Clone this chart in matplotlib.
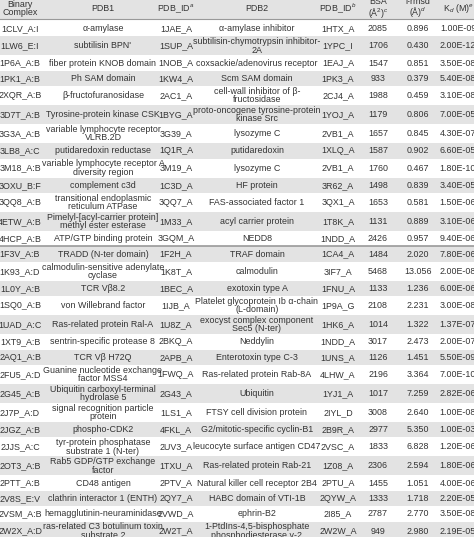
import matplotlib
matplotlib.use("Agg")
import matplotlib.pyplot as plt
from matplotlib.patches import Rectangle

complexes = ["1CLV_A:I","1LW6_E:I","1P6A_A:B","1PK1_A:B","2XQR_A:B","3D7T_A:B","3G3A_A:B","3LB8_A:C","3M18_A:B","3OXU_B:F","3QQ8_A:B","4ETW_A:B","4HCP_A:B",
 "1F3V_A:B","1K93_A:D","1L0Y_A:B","1SQ0_A:B","1UAD_A:C","1XT9_A:B","2AQ1_A:B","2FU5_A:D","2G45_A:B","2J7P_A:D","2JGZ_A:B","2JJS_A:C","2OT3_A:B","2PTT_A:B","2V8S_E:V","2VSM_A:B","2W2X_A:D"]
pdb1 = ["α-amylase","subtilisin BPN'","fiber protein KNOB domain","Ph SAM domain","β-fructofuranosidase","Tyrosine-protein kinase CSK",
 "variable lymphocyte receptor\nVLRB.2D","putidaredoxin reductase","variable lymphocyte receptor A\ndiversity region","complement c3d",
 "transitional endoplasmic\nreticulum ATPase","Pimelyl-[acyl-carrier protein]\nmethyl ester esterase","ATP/GTP binding protein",
 "TRADD (N-ter domain)","calmodulin-sensitive adenylate\ncyclase","TCR Vβ8.2","von Willebrand factor","Ras-related protein Ral-A",
 "sentrin-specific protease 8","TCR Vβ H72Q","Guanine nucleotide exchange\nfactor MSS4","Ubiquitin carboxyl-terminal\nhydrolase 5",
 "signal recognition particle\nprotein","phospho-CDK2","tyr-protein phosphatase\nsubstrate 1 (N-ter)","Rab5 GDP/GTP exchange\nfactor",
 "CD48 antigen","clathrin interactor 1 (ENTH)","hemagglutinin-neuraminidase","ras-related C3 botulinum toxin\nsubstrate 2"]
pdb_id1 = ["1JAE_A","1SUP_A","1NOB_A","1KW4_A","2AC1_A","1BYG_A","3G39_A","1Q1R_A","3M19_A","1C3D_A","3QQ7_A","1M33_A","3GQM_A",
 "1F2H_A","1K8T_A","1BEC_A","1IJB_A","1U8Z_A","2BKQ_A","2APB_A","1FWQ_A","2G43_A","1LS1_A","4FKL_A","2UV3_A","1TXU_A","2PTV_A","2QY7_A","2VWD_A","2W2T_A"]
pdb2 = ["α-amylase inhibitor","subtilisin-chymotrypsin inhibitor-\n2A","coxsackie/adenovirus receptor","Scm SAM domain",
 "cell-wall inhibitor of β-\nfructosidase","proto-oncogene tyrosine-protein\nkinase Src","lysozyme C","putidaredoxin","lysozyme C",
 "HF protein","FAS-associated factor 1","acyl carrier protein","NEDD8","TRAF domain","calmodulin","exotoxin type A",
 "Platelet glycoprotein Ib α-chain\n(L-domain)","exocyst complex component\nSec5 (N-ter)","Neddylin","Enterotoxin type C-3",
 "Ras-related protein Rab-8A","Ubiquitin","FTSY cell division protein","G2/mitotic-specific cyclin-B1",
 "leucocyte surface antigen CD47","Ras-related protein Rab-21","Natural killer cell receptor 2B4","HABC domain of VTI-1B",
 "ephrin-B2","1-PtdIns-4,5-bisphosphate\nphosphodiesterase γ-2"]
pdb_id2 = ["1HTX_A","1YPC_I","1EAJ_A","1PK3_A","2CJ4_A","1YOJ_A","2VB1_A","1XLQ_A","2VB1_A","3R62_A","3QX1_A","1T8K_A","1NDD_A",
 "1CA4_A","3IF7_A","1FNU_A","1P9A_G","1HK6_A","1NDD_A","1UNS_A","4LHW_A","1YJ1_A","2IYL_D","2B9R_A","2VSC_A","1Z08_A","2PTU_A","2QYW_A","2I85_A","2W2W_A"]
bsa = [2085,1706,1547,933,1988,1179,1657,1587,1760,1498,1653,1131,2426,1484,5468,1133,2108,1014,3017,1126,2196,1017,3008,2977,1833,2306,1455,1333,2787,949]
irmsd = ["0.896","0.430","0.851","0.379","0.459","0.806","0.845","0.902","0.467","0.839","0.581","0.889","0.957",
 "2.020","13.056","1.236","2.231","1.322","2.473","1.451","3.364","7.259","2.640","5.350","6.828","2.594","1.051","1.718","2.770","2.980"]
kd = ["1.00E-09","2.00E-12","3.50E-08","5.40E-08","3.10E-08","7.00E-05","4.30E-07","6.60E-05","1.80E-10","3.40E-05","1.50E-06","3.10E-06","9.40E-06",
 "7.80E-06","2.00E-08","6.00E-06","3.00E-08","1.37E-07","2.00E-07","5.50E-09","7.00E-10","2.82E-06","1.00E-08","1.00E-03","1.20E-06","1.80E-06","4.00E-06","2.20E-05","3.50E-08","2.19E-05"]
headers = ["Binary\nComplex","PDB1","PDB_ID$^a$","PDB2","PDB_ID$^b$","BSA\n(Å$^2$)$^c$","i-rmsd\n(Å)$^d$","K$_d$ (M)$^e$"]

plt.rcParams["font.family"] = ["Liberation Sans", "DejaVu Sans"]
plt.rcParams["mathtext.fontset"] = "custom"
plt.rcParams["mathtext.rm"] = "Liberation Sans"
plt.rcParams["mathtext.it"] = "Liberation Sans:italic"

W, H = 474, 537
fig = plt.figure(figsize=(W/100, H/100), dpi=100)
ax = fig.add_axes([0, 0, 1, 1])
ax.set_xlim(0, W); ax.set_ylim(H, 0); ax.axis("off")

centers = [20, 103, 176, 257, 338, 378, 418, 458]
fs = 6.4
col = "#333333"
gray = "#e3e3e3"

hdr_h = 19
ax.add_patch(Rectangle((0, 0), W, hdr_h, color=gray, lw=0))
for x, t in zip(centers, headers):
    ax.text(x, hdr_h/2 - 1, t, ha="center", va="center", fontsize=fs, color=col, linespacing=0.95)
ax.plot([0, W], [hdr_h, hdr_h], color="#999999", lw=0.8)

y = hdr_h + 2
for i in range(len(complexes)):
    double = ("\n" in pdb1[i]) or ("\n" in pdb2[i])
    h = 19 if double else 15.4
    if i % 2 == 1:
        ax.add_patch(Rectangle((0, y), W, h, color=gray, lw=0))
    cy = y + h/2
    vals = [complexes[i], pdb1[i], pdb_id1[i], pdb2[i], pdb_id2[i], str(bsa[i]), irmsd[i], kd[i]]
    for x, t in zip(centers, vals):
        ax.text(x, cy, t, ha="center", va="center", fontsize=fs, color=col, linespacing=0.9)
    y += h
    if i == 12:
        ax.plot([0, W], [y, y], color="#999999", lw=1.2)

fig.savefig("out.png", dpi=100)
